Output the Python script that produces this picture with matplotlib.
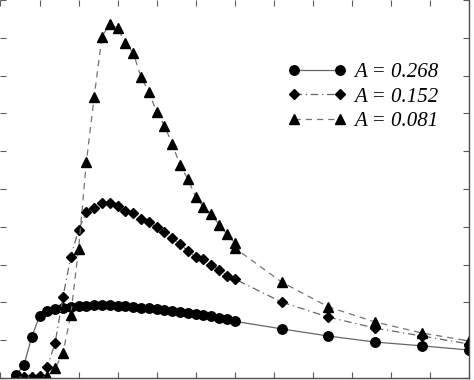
import matplotlib
matplotlib.use("Agg")
import matplotlib.pyplot as plt

# A = 0.268 (circles)
x_circ = [0.4, 0.6, 0.8, 1.0, 1.2, 1.4, 1.6, 1.8, 2.0, 2.2, 2.4, 2.6, 2.8, 3.0,
          3.2, 3.4, 3.6, 3.8, 4.0, 4.2, 4.4, 4.6, 4.8, 5.0, 5.2, 5.4, 5.6, 5.8, 6.0,
          7.2, 8.4, 9.6, 10.8, 12.0]
y_circ = [0.08, 0.34, 1.08, 1.64, 1.77, 1.83, 1.86, 1.89, 1.90, 1.91, 1.92, 1.92, 1.92, 1.91,
          1.90, 1.88, 1.86, 1.84, 1.82, 1.80, 1.77, 1.75, 1.72, 1.69, 1.66, 1.63, 1.60, 1.56, 1.50,
          1.30, 1.11, 0.95, 0.85, 0.74]

# A = 0.152 (diamonds)
x_diam = [0.4, 0.6, 0.8, 1.0, 1.2, 1.4, 1.6, 1.8, 2.0, 2.2, 2.4, 2.6, 2.8, 3.0,
          3.2, 3.4, 3.6, 3.8, 4.0, 4.2, 4.4, 4.6, 4.8, 5.0, 5.2, 5.4, 5.6, 5.8, 6.0,
          7.2, 8.4, 9.6, 10.8, 12.0]
y_diam = [0.03, 0.03, 0.03, 0.04, 0.29, 0.93, 2.14, 3.20, 3.92, 4.39, 4.50, 4.63, 4.63, 4.55,
          4.42, 4.37, 4.21, 4.13, 3.99, 3.86, 3.70, 3.54, 3.36, 3.20, 3.15, 2.99, 2.86, 2.70, 2.62,
          2.01, 1.61, 1.32, 1.11, 0.90]

# A = 0.081 (triangles)
x_tri = [0.4, 0.6, 0.8, 1.0, 1.2, 1.4, 1.6, 1.8, 2.0, 2.2, 2.4, 2.6, 2.8, 3.0,
         3.2, 3.4, 3.6, 3.8, 4.0, 4.2, 4.4, 4.6, 4.8, 5.0, 5.2, 5.4, 5.6, 5.8, 6.0, 6.0,
         7.2, 8.4, 9.6, 10.8, 12.0]
y_tri = [0.02, 0.02, 0.02, 0.03, 0.04, 0.26, 0.66, 1.67, 3.41, 5.71, 7.44, 9.03, 9.37, 9.26,
         8.86, 8.60, 7.96, 7.57, 7.04, 6.67, 6.19, 5.63, 5.26, 4.79, 4.52, 4.34, 4.05, 3.81, 3.57, 3.44,
         2.54, 1.88, 1.48, 1.19, 0.98]

labels = ["A = 0.268", "A = 0.152", "A = 0.081"]

fig = plt.figure(figsize=(4.74, 3.8), dpi=100)
ax = fig.add_axes([0.001, 2 / 380, 468.5 / 474, 378 / 380])

ax.plot(x_circ, y_circ, color="0.4", lw=0.9, ls="-", marker="o", ms=6.8,
        mfc="k", mec="k", label=labels[0])
ax.plot(x_diam, y_diam, color="0.4", lw=0.9, ls=(0, (6, 3, 1, 3)), marker="D", ms=5.2,
        mfc="k", mec="k", label=labels[1])
ax.plot(x_tri, y_tri, color="0.45", lw=0.9, ls=(0, (5, 4)), marker="^", ms=7.5,
        mfc="k", mec="k", label=labels[2])

ax.set_xlim(0, 12)
ax.set_ylim(0, 10)
ax.set_xticks(range(0, 13))
ax.set_yticks(range(0, 11))
ax.set_xticklabels([])
ax.set_yticklabels([])
ax.tick_params(direction="in", length=4, width=0.8, color="0.35",
               top=True, right=True, left=True, bottom=True)
ax.spines["top"].set_visible(False)
ax.spines["left"].set_visible(False)
for s in ["right", "bottom"]:
    ax.spines[s].set_color("0.3")
    ax.spines[s].set_linewidth(1.0)

leg = ax.legend(loc="upper right", bbox_to_anchor=(0.974, 0.885), frameon=False,
                numpoints=2, handlelength=2.8, handletextpad=0.35, labelspacing=0.25,
                prop={"family": "Liberation Serif", "style": "italic", "size": 15})

fig.savefig("out.png", dpi=100)
